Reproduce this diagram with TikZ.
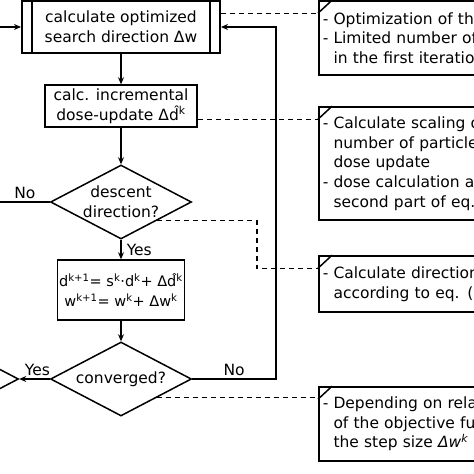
\documentclass[tikz,border=0pt]{standalone}
\usepackage{fontspec}
\setmainfont{DejaVu Sans}
\usetikzlibrary{shapes.geometric,arrows.meta}

\begin{document}
\begin{tikzpicture}[x=1pt, y=-1pt,
	every node/.style={font=\fontsize{15.5}{19.7}\selectfont},
	box/.style={rectangle, draw=black, line width=1.5pt, inner sep=0pt, align=center},
	decision/.style={diamond, draw=black, line width=1.5pt, inner sep=0pt, minimum width=141pt, minimum height=74pt},
	note/.style={rectangle, draw=black, line width=1.5pt, anchor=west, text width=260pt, align=left, inner xsep=4pt, inner ysep=0pt},
	line/.style={draw=black, line width=1.5pt},
	flow/.style={draw=black, line width=1.5pt, -{Stealth[length=7pt, width=6pt]}},
	hint/.style={draw=black, line width=1.2pt, dash pattern=on 5pt off 4pt}]
	\useasboundingbox (0,0) rectangle (474,474);
	\clip (0,0) rectangle (474,474);
	
	% flow chart
	\node[box, line width=2pt, minimum width=198pt, minimum height=52pt] (opt) at (121,27) {calculate optimized\\search direction Δw};
	\draw[line] ([xshift=11pt]opt.north west) -- ([xshift=11pt]opt.south west);
	\draw[line] ([xshift=-11pt]opt.north east) -- ([xshift=-11pt]opt.south east);
	\node[box, minimum width=152pt, minimum height=42pt] (inc) at (121,106) {calc. incremental\\dose-update Δ\^{d}\textsuperscript{k}};
	\node[decision, label={[align=center]center:descent\\direction?}] (desc) at (121,202) {};
	\node[box, minimum width=127pt, minimum height=60pt, font=\fontsize{14.5}{20}\selectfont] (upd) at (121,290) {d\textsuperscript{k+1}= s\textsuperscript{k}·d\textsuperscript{k}+ Δ\^{d}\textsuperscript{k}\\w\textsuperscript{k+1}= w\textsuperscript{k}+ Δw\textsuperscript{k}};
	\node[decision, label=center:converged?] (conv) at (121,379) {};
	\node[decision] (stop) at (-52,379) {};
	
	\coordinate (start) at (0,27);
	\coordinate (noexit) at (0,202);
	\coordinate (back) at (276,0);
	
	\path[flow] (start) -- (opt.west);
	\path[flow] (opt.south) -- (inc.north);
	\path[flow] (inc.south) -- (desc.north);
	\path[line] (desc.west) -- node[above, inner sep=3pt]{No} (noexit);
	\path[flow] (desc.south) -- node[right, inner sep=5pt]{Yes} (upd.north);
	\path[flow] (upd.south) -- (conv.north);
	\path[flow] (conv.west) -- node[above, inner sep=3pt, xshift=3pt]{Yes} (stop.east);
	\path[flow] (conv.east) -- node[above, inner sep=3pt]{No} (back |- conv.east) -- (back |- opt.east) -- (opt.east);
	
	% notes
	\node[note, minimum height=74pt] (n1) at (318,38) {- Optimization of the\\- Limited number of\\\hphantom{- }in the first iteration};
	\node[note, minimum height=113pt] (n2) at (318,163.5) {- Calculate scaling of\\\hphantom{- }number of particles\\\hphantom{- }dose update\\- dose calculation as\\\hphantom{- }second part of eq.};
	\node[note, minimum height=56pt] (n3) at (318,284) {- Calculate direction\\\hphantom{- }according to eq. (};
	\node[note, minimum height=74pt] (n4) at (318,424) {- Depending on relative\\\hphantom{- }of the objective function\\\hphantom{- }the step size \textit{Δw\textsuperscript{k}}};
	
	\coordinate (n1c) at ([yshift=-13pt]n1.north west);
	\coordinate (n2c) at ([yshift=-13pt]n2.north west);
	\coordinate (n3c) at ([yshift=-13pt]n3.north west);
	\coordinate (n4c) at ([yshift=-13pt]n4.north west);
	\foreach \n in {n1,n2,n3,n4}
		\draw[line] (\n c) -- ([xshift=14pt]\n.north west);
	
	\coordinate (bend) at (257,0);
	\path[hint] (n1c -| opt.east) -- (n1c);
	\path[hint] (n2c -| inc.east) -- (n2c);
	\path[hint] (desc.south east) -- (bend |- desc.south east) -- (bend |- n3c) -- (n3c);
	\path[hint] (conv.south east) -- (conv.south east -| n4c);
\end{tikzpicture}
\end{document}
